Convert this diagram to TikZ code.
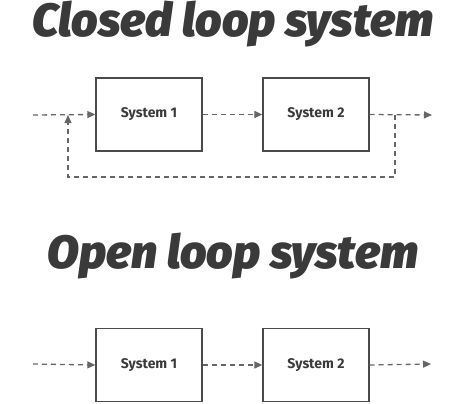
\documentclass[tikz,border=0pt]{standalone}
\usepackage{fontspec}
\setmainfont{Fira Sans}
\newfontfamily\titlefont{Fira Sans Black Italic}
\usetikzlibrary{arrows.meta}
\definecolor{txt}{HTML}{3A3A3A}
\definecolor{boxc}{HTML}{4A4A4A}
\definecolor{dashc}{HTML}{666666}
\tikzset{
  sysbox/.style={draw=boxc, line width=1.3pt, minimum width=106pt, minimum height=73pt, inner sep=0pt, text=txt, font=\fontsize{14}{16}\selectfont\bfseries},
  title/.style={text=txt, font=\fontsize{46.5}{50}\selectfont\titlefont, inner sep=0pt, anchor=base},
  sig/.style={draw=dashc, line width=1.3pt, dash pattern=on 5pt off 4pt},
  arr/.style={sig, -{Triangle[length=8pt, width=7pt]}},
}
\begin{document}
\begin{tikzpicture}[x=1pt, y=-1pt]
\useasboundingbox (0,0) rectangle (474,404);
% titles
\node[title] (t1) at (233,37) {Closed loop system};
\node[title] (t2) at (233,268) {Open loop system};
% closed loop
\node[sysbox] (a1) at (149,114.5) {System 1};
\node[sysbox] (a2) at (316,114.5) {System 2};
\coordinate (ain) at (33,115);
\coordinate (aout) at (432,115);
\coordinate (fb) at (68,115);
\coordinate (fr) at (395,115);
\draw[arr] (ain) -- (a1.west);
\draw[arr] (a1.east) -- (a2.west);
\draw[arr] (a2.east) -- (aout);
\draw[arr] (fr) -- (395,177) -| (fb);
% open loop
\node[sysbox] (b1) at (149,365) {System 1};
\node[sysbox] (b2) at (316,365) {System 2};
\coordinate (bin) at (33,364);
\coordinate (bout) at (431,364);
\draw[arr] (bin) -- (b1.west);
\draw[arr] (b1.east) -- (b2.west);
\draw[arr] (b2.east) -- (bout);
\end{tikzpicture}
\end{document}
